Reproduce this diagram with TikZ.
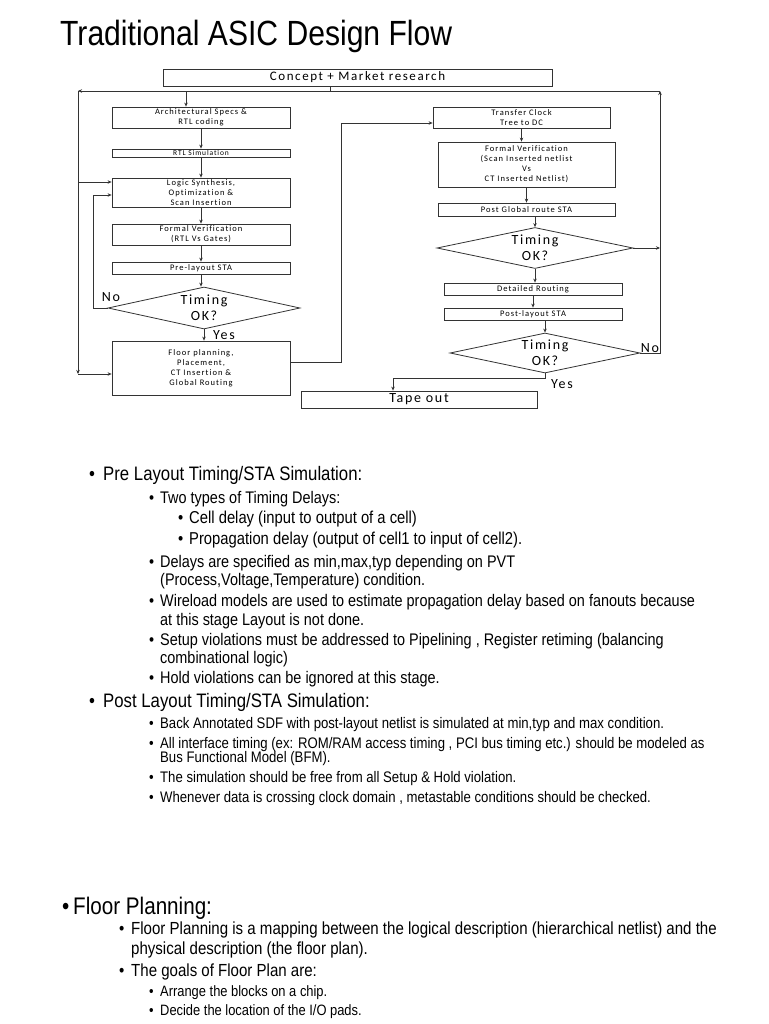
\documentclass[tikz,border=0pt]{standalone}
\usepackage{fontspec}
\setmainfont{Liberation Sans}
\newfontfamily\narrowfont{Liberation Sans}[FakeStretch=0.86]
\newfontfamily\flowfont{Carlito}[LetterSpace=12,Ligatures=NoCommon]
\usetikzlibrary{arrows.meta,shapes.geometric,positioning}

\newcommand{\bulw}[1]{\makebox[#1][l]{\textbullet}}

\tikzset{
  box/.style={draw=black!80,line width=0.8pt,minimum width=178pt,inner sep=0pt,align=center,
    font=\flowfont\fontsize{8.5}{10}\selectfont},
  decision/.style={draw=black!80,line width=0.8pt,diamond,aspect=4.6,minimum width=192pt,
    minimum height=42pt,inner sep=0pt,align=center,font=\flowfont\fontsize{14}{16}\selectfont},
  lab/.style={inner sep=0pt,font=\flowfont\fontsize{14}{14}\selectfont},
  ln/.style={draw=black!80,line width=0.8pt},
  arr/.style={ln,-{Stealth[length=4pt,width=3.5pt]}},
  lvA/.style={anchor=base west,inner sep=0pt,font=\narrowfont\fontsize{19.5}{22}\selectfont},
  lvB/.style={anchor=base west,inner sep=0pt,font=\narrowfont\fontsize{16.8}{19}\selectfont},
  lvC/.style={anchor=base west,inner sep=0pt,font=\narrowfont\fontsize{17.2}{19}\selectfont},
  lvS/.style={anchor=base west,inner sep=0pt,font=\narrowfont\fontsize{15.3}{16}\selectfont},
  lvH/.style={anchor=base west,inner sep=0pt,font=\narrowfont\fontsize{24}{26}\selectfont},
  lvF/.style={anchor=base west,inner sep=0pt,font=\narrowfont\fontsize{17.5}{19}\selectfont},
  lvG/.style={anchor=base west,inner sep=0pt,font=\narrowfont\fontsize{15}{17}\selectfont}
}

\begin{document}
\begin{tikzpicture}[x=1pt,y=-1pt]

  \fill[white] (0,0) rectangle (768,1024);
  \useasboundingbox (0,0) rectangle (768,1024);

  \node[anchor=base west,inner sep=0pt,font=\narrowfont\fontsize{35}{35}\selectfont] (title) at (60,46) {Traditional ASIC Design Flow};

  % left column
  \node[box,minimum width=389pt,minimum height=17pt,font=\flowfont\fontsize{13}{13}\selectfont] (concept) at (357.5,77.5) {Concept + Market research};
  \node[box,minimum height=21pt] (arch) at (201,117.5) {Architectural Specs \&\\RTL coding};
  \node[box,minimum height=8pt,font=\flowfont\fontsize{7.5}{8}\selectfont] (rtlsim) at (201,153) {RTL Simulation};
  \node[box,minimum height=29pt] (synth) at (201,192.5) {Logic Synthesis,\\Optimization \&\\Scan Insertion};
  \node[box,minimum height=21pt] (fvL) at (201,234.5) {Formal Verification\\(RTL Vs Gates)};
  \node[box,minimum height=12pt] (prel) at (201,268) {Pre-layout STA};
  \node[decision] (tmL) at (204,308) {Timing\\OK?};
  \node[box,minimum height=54pt] (floor) at (201,368) {Floor planning,\\Placement,\\CT Insertion \&\\Global Routing};

  % right column
  \node[box,minimum width=177pt,minimum height=21pt] (xfer) at (521.5,117.5) {Transfer Clock\\Tree to DC};
  \node[box,minimum width=177pt,minimum height=45pt] (fvR) at (526.5,164.5) {Formal Verification\\(Scan Inserted netlist\\Vs\\CT Inserted Netlist)};
  \node[box,minimum width=177pt,minimum height=13pt] (postgr) at (526.5,209.5) {Post Global route STA};
  \node[decision,minimum width=196pt,minimum height=41pt] (tmR) at (535,248) {Timing\\OK?};
  \node[box,minimum height=12pt] (detail) at (533,289) {Detailed Routing};
  \node[box,minimum height=12pt] (postl) at (533,314) {Post-layout STA};
  \node[decision,minimum width=190pt,minimum height=40pt] (tmF) at (545,353) {Timing\\OK?};
  \node[box,minimum width=236pt,minimum height=17pt,font=\flowfont\fontsize{14}{14}\selectfont] (tape) at (419,399.5) {Tape out};

  \coordinate (rtop) at (660,91);
  \coordinate (ltop) at (78,91);
  \coordinate (lbot) at (78,374);
  \coordinate (lmid) at (78,182);

  \draw[arr] ([xshift=-27.5pt]concept.south) -- ++(0,5) -| ([xshift=-15pt]arch.north);
  \draw[arr] (arch) -- (rtlsim);
  \draw[arr] (rtlsim) -- (synth);
  \draw[arr] (synth) -- (fvL);
  \draw[arr] (fvL) -- (prel);
  \draw[arr] (prel.south) -- (prel.south |- tmL.north);
  \draw[arr] (tmL.south) -- (tmL.south |- floor.north);
  \draw[arr] (tmL.west) -- ++(-14,0) |- ([yshift=-2.5pt]synth.west);
  \draw[arr] ([yshift=6pt]floor.east) -- ++(51,0) |- ([yshift=-5.5pt]xfer.west);

  \draw[arr] (xfer.south) -- (xfer.south |- fvR.north);
  \draw[arr] (fvR) -- (postgr);
  \draw[arr] (postgr.south -| tmR) -- (tmR.north);
  \draw[arr] (tmR.south) -- (tmR.south |- detail.north);
  \draw[arr] (detail) -- (postl);
  \draw[arr] (postl.south -| tmF) -- (tmF.north);
  \draw[arr] (tmF.south) -- ++(0,5) -| ([xshift=-26pt]tape.north);

  % outer loop
  \draw[arr] (tmR.east) -- (tmR.east -| rtop);
  \draw[arr] (tmF.east) -- (tmF.east -| rtop) -- (rtop);
  \draw[arr] (rtop) -- (ltop);
  \draw[arr] (ltop) -- (lbot);
  \draw[arr] (lbot) -- (lbot -| floor.west);
  \draw[arr] (lmid) -- (lmid -| synth.west);

  \node[lab] (noL) at (111,297) {No};
  \node[lab] (yesL) at (224,335) {Yes};
  \node[lab] (noR) at (650,348) {No};
  \node[lab] (yesR) at (562,384) {Yes};

  % notes
  \node[lvA] (pre) at (89,480) {\bulw{14pt}Pre Layout Timing/STA Simulation:};
  \node[lvB] (pre1) at (149,503) {\bulw{11pt}Two types of Timing Delays:};
  \node[lvC] (pre1a) at (178,523) {\bulw{11pt}Cell delay (input to output of a cell)};
  \node[lvC] (pre1b) at (178,544) {\bulw{11pt}Propagation delay (output of cell1 to input of cell2).};
  \node[lvB] (pre2) at (149,567) {\bulw{11pt}Delays are specified as min,max,typ depending on PVT};
  \node[lvB] (pre2c) at (160,585) {(Process,Voltage,Temperature) condition.};
  \node[lvB] (pre3) at (149,606) {\bulw{11pt}Wireload models are used to estimate propagation delay based on fanouts because};
  \node[lvB] (pre3c) at (160,625) {at this stage Layout is not done.};
  \node[lvB] (pre4) at (149,645) {\bulw{11pt}Setup violations must be addressed to Pipelining , Register retiming (balancing};
  \node[lvB] (pre4c) at (160,663) {combinational logic)};
  \node[lvB] (pre5) at (149,683) {\bulw{11pt}Hold violations can be ignored at this stage.};

  \node[lvA] (post) at (89,707) {\bulw{14pt}Post Layout Timing/STA Simulation:};
  \node[lvS] (post1) at (149,728) {\bulw{11pt}Back Annotated SDF with post-layout netlist is simulated at min,typ and max condition.};
  \node[lvS] (post2) at (149,748) {\bulw{11pt}All interface timing (ex: ROM/RAM access timing , PCI bus timing etc.) should be modeled as};
  \node[lvS] (post2c) at (160,762) {Bus Functional Model (BFM).};
  \node[lvS] (post3) at (149,782) {\bulw{11pt}The simulation should be free from all Setup \& Hold violation.};
  \node[lvS] (post4) at (149,802) {\bulw{11pt}Whenever data is crossing clock domain , metastable conditions should be checked.};

  \node[lvH] (fp) at (62,914) {\bulw{11pt}Floor Planning:};
  \node[lvF] (fp1) at (119,934) {\bulw{12pt}Floor Planning is a mapping between the logical description (hierarchical netlist) and the};
  \node[lvF] (fp1c) at (131,954) {physical description (the floor plan).};
  \node[lvF] (fp2) at (119,976) {\bulw{12pt}The goals of Floor Plan are:};
  \node[lvG] (fp2a) at (149,996) {\bulw{11pt}Arrange the blocks on a chip.};
  \node[lvG] (fp2b) at (149,1015) {\bulw{11pt}Decide the location of the I/O pads.};

\end{tikzpicture}
\end{document}
